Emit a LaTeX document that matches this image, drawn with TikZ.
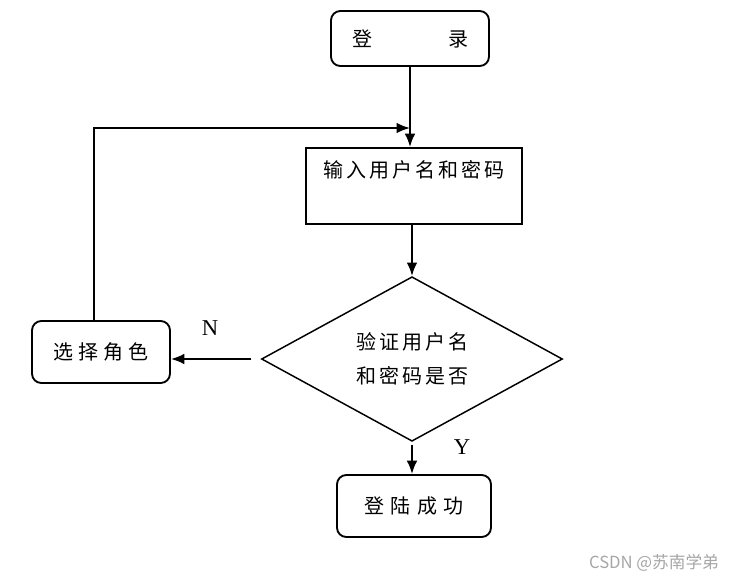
\documentclass[tikz,border=0pt]{standalone}
\usepackage{fontspec}
\setmainfont{Liberation Serif}
\newfontfamily\cjk{Noto Sans CJK SC}
\usetikzlibrary{shapes.geometric,arrows.meta}
\tikzstyle{box}=[draw,line width=1.4pt,rounded corners=7pt,inner sep=0pt,align=center,font=\cjk\fontsize{15}{20}\selectfont]
\tikzstyle{plainbox}=[box,sharp corners]
\tikzstyle{decision}=[diamond,draw,line width=1.1pt,inner sep=0pt,align=center,font=\cjk\fontsize{15}{20}\selectfont]
\tikzstyle{flow}=[line width=1.5pt,-{Latex[length=10pt,width=8pt]}]
\tikzstyle{letter}=[font=\fontsize{17}{20}\selectfont]

\begin{document}
\begin{tikzpicture}[x=0.75pt,y=-0.75pt]
\useasboundingbox (0,0) rectangle (736,582);
\node[box,minimum width=118.5pt,minimum height=41.25pt] (login) at (410,38.5) {登\hspace{57pt}录};
\node[plainbox,minimum width=162pt,minimum height=57pt] (input) at (414,186) {\addfontfeature{LetterSpace=15}输入用户名和密码\\\strut};
\node[decision,minimum width=225.75pt,minimum height=117.75pt] (check) at (412,359) {\addfontfeature{LetterSpace=15}验证用户名\\[5.5pt]\addfontfeature{LetterSpace=15}和密码是否};
\node[box,minimum width=103.5pt,minimum height=46.5pt] (role) at (101,352) {\addfontfeature{LetterSpace=25}选择角色};
\node[box,minimum width=115.5pt,minimum height=46.5pt] (done) at (414,506) {\addfontfeature{LetterSpace=32}登陆成功};
\coordinate (join) at (410,128);
\coordinate (corner) at (94,128);
\draw[flow] (login.south) -- (login.south |- input.north);
\draw[flow] (input.south -| check.north) -- (check.north);
\draw[flow, shorten <=2pt] (check.south) -- (check.south |- done.north);
\draw[flow, shorten <=7pt] (check.west) -- (check.west -| role.east);
\draw[flow] (role.north -| corner) -- (corner) -- (join);
\node[letter] (no) at (210,328) {N};
\node[letter] (yes) at (462,447) {Y};
\node[text=gray!70,font=\cjk\fontsize{12.5}{14}\selectfont] (mark) at (654,563) {CSDN @苏南学弟};
\end{tikzpicture}
\end{document}
